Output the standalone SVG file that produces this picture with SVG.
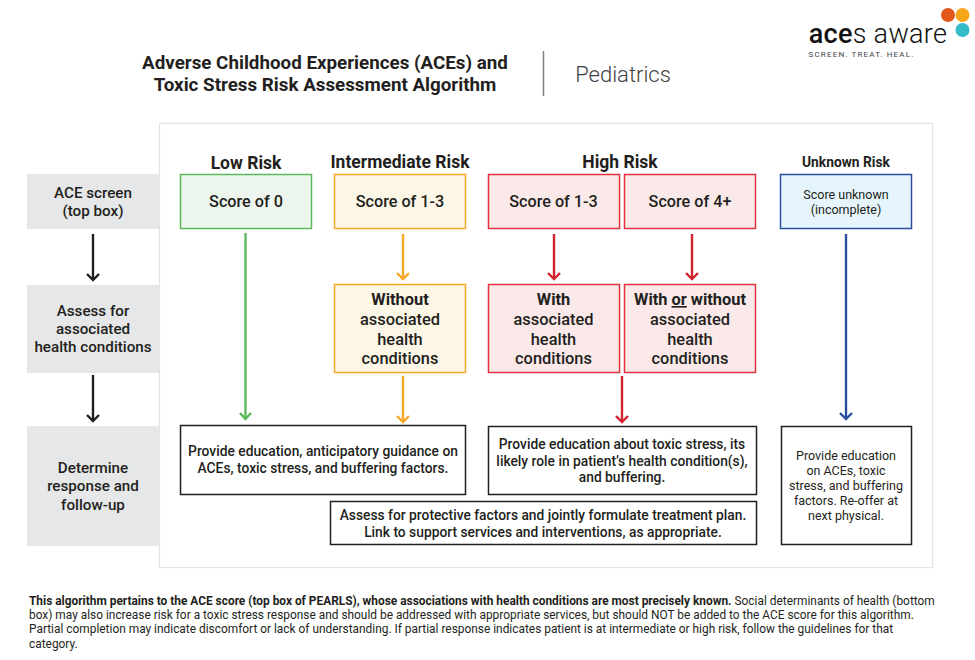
<svg xmlns="http://www.w3.org/2000/svg" width="975" height="660" viewBox="0 0 975 660">
<defs>
<style>
text{font-family:Roboto,"Liberation Sans",sans-serif;fill:#231f20;text-anchor:middle}
.h{font-size:17.500px;font-weight:700}
.t{font-size:16.200px;font-weight:500}
.b{font-size:16.400px;font-weight:500}
.bb{font-weight:700}
.s{font-size:13.800px;font-weight:500}
.side{fill:#e6e7e8}
.c{font-size:15.200px}
.foot{font-size:11.900px;text-anchor:start}
.box{fill:#fff;stroke:#231f20;stroke-width:1.5}
.g{fill:#edf6ee;stroke:#5cb85c;stroke-width:1.5}
.o{fill:#fbf6e6;stroke:#f9a825;stroke-width:1.5}
.r{fill:#fbe9ea;stroke:#e0323f;stroke-width:1.5}
.u{fill:#e6f5fb;stroke:#2b4f9e;stroke-width:1.5}
line{fill:none;stroke-width:2.400}
polyline{fill:none;stroke-width:2.400}
</style>
</defs>
<g id="title">
<text x="325" y="69" style="font-size:18.800px;font-weight:700">Adverse Childhood Experiences (ACEs) and</text>
<text x="325" y="91" style="font-size:18.800px;font-weight:700">Toxic Stress Risk Assessment Algorithm</text>
<line x1="543.500" y1="51" x2="543.500" y2="96" stroke="#7f7f7f" style="stroke-width:1.500"/>
<text x="623" y="82" style="font-size:22px;font-weight:300;fill:#414042">Pediatrics</text>
</g>
<g id="logo">
<circle cx="948" cy="15" r="7" fill="#e1581a"/>
<circle cx="962.500" cy="15" r="7" fill="#f9a51a"/>
<circle cx="962.500" cy="30" r="7" fill="#35bccb"/>
<text x="878" y="42.500" style="font-size:27px;font-weight:400;letter-spacing:.3px;fill:#111"><tspan font-weight="500">ace</tspan><tspan font-weight="300">s aware</tspan></text>
<text x="861.500" y="56.500" style="font-size:8px;font-weight:400;letter-spacing:1.170px;fill:#444">SCREEN. TREAT. HEAL.</text>
</g>
<rect id="panel" x="159.500" y="123.500" width="773" height="444" fill="#fff" stroke="#e3e3e3" stroke-width="1.200"/>
<g id="side-ace"><rect class="side" x="27" y="174" width="132" height="55"/><text class="c s" x="93" y="198">ACE screen</text><text class="c s" x="93" y="216">(top box)</text></g>
<g id="side-assess"><rect class="side" x="27" y="285" width="132" height="88"/><text class="c s" x="93" y="316">Assess for</text><text class="c s" x="93" y="334">associated</text><text class="c s" x="93" y="352">health conditions</text></g>
<g id="side-determine"><rect class="side" x="27" y="426" width="132" height="120"/><text class="c s" x="93" y="473">Determine</text><text class="c s" x="93" y="491">response and</text><text class="c s" x="93" y="510">follow-up</text></g>
<g id="low"><text class="h" x="246" y="168.500">Low Risk</text><rect class="g" x="180.500" y="174.500" width="131" height="54"/><text class="t" x="246" y="207">Score of 0</text></g>
<g id="intermediate"><text class="h" x="400" y="168">Intermediate Risk</text><rect class="o" x="334.500" y="174.500" width="131" height="54"/><text class="t" x="400" y="207">Score of 1-3</text></g>
<g id="high-1"><text class="h" x="620" y="168">High Risk</text><rect class="r" x="488.500" y="174.500" width="131" height="54"/><text class="t" x="553.500" y="207">Score of 1-3</text></g>
<g id="high-2"><rect class="r" x="624.500" y="174.500" width="131" height="54"/><text class="t" x="690" y="207">Score of 4+</text></g>
<g id="unknown"><text x="846" y="167" style="font-size:13.800px;font-weight:700">Unknown Risk</text><rect class="u" x="780.500" y="174.500" width="131" height="54"/><text x="846" y="199" style="font-size:12.500px">Score unknown</text><text x="846" y="214" style="font-size:12.500px">(incomplete)</text></g>
<g id="without"><rect class="o" x="334.500" y="284.500" width="131" height="88"/><text class="b bb" x="400" y="305">Without</text><text class="b" x="400" y="325">associated</text><text class="b" x="400" y="345">health</text><text class="b" x="400" y="364">conditions</text></g>
<g id="with"><rect class="r" x="488.500" y="284.500" width="131" height="88"/><text class="b bb" x="553.500" y="305">With</text><text class="b" x="553.500" y="325">associated</text><text class="b" x="553.500" y="345">health</text><text class="b" x="553.500" y="364">conditions</text></g>
<g id="with-or-without"><rect class="r" x="624.500" y="284.500" width="131" height="88"/><text class="b bb" x="690" y="305">With <tspan text-decoration="underline">or</tspan> without</text><text class="b" x="690" y="325">associated</text><text class="b" x="690" y="345">health</text><text class="b" x="690" y="364">conditions</text></g>
<g id="resp-left"><rect class="box" x="180.500" y="425.500" width="285" height="69"/><text class="s" x="323" y="456">Provide education, anticipatory guidance on</text><text class="s" x="323" y="473">ACEs, toxic stress, and buffering factors.</text></g>
<g id="resp-high"><rect class="box" x="488.500" y="426.500" width="268" height="68"/><text class="s" x="622" y="449">Provide education about toxic stress, its</text><text class="s" x="622" y="466">likely role in patient’s health condition(s),</text><text class="s" x="622" y="482">and buffering.</text></g>
<g id="resp-plan"><rect class="box" x="330.500" y="501.500" width="426" height="43"/><text class="s" x="543" y="520">Assess for protective factors and jointly formulate treatment plan.</text><text class="s" x="543" y="537">Link to support services and interventions, as appropriate.</text></g>
<g id="resp-unknown"><rect class="box" x="781.500" y="426.500" width="130" height="118"/><g style="font-size:12.500px"><text x="846" y="460">Provide education</text><text x="846" y="475">on ACEs, toxic</text><text x="846" y="490">stress, and buffering</text><text x="846" y="505">factors. Re-offer at</text><text x="846" y="520">next physical.</text></g></g>
<g id="connectors">
<g stroke="#231f20"><line x1="93" y1="234" x2="93" y2="280"/><polyline points="87,274 93,280 99,274"/><line x1="93" y1="375" x2="93" y2="421"/><polyline points="87,415 93,421 99,415"/></g>
<g stroke="#5cb85c"><line x1="245.500" y1="233" x2="245.500" y2="419"/><polyline points="240,413 245.500,419 251,413"/></g>
<g stroke="#f9a825"><line x1="403" y1="234" x2="403" y2="279"/><polyline points="397,273 403,279 409,273"/><line x1="403" y1="376" x2="403" y2="422"/><polyline points="397,416 403,422 409,416"/></g>
<g stroke="#d2232f"><line x1="554" y1="234" x2="554" y2="279"/><polyline points="548,273 554,279 560,273"/><line x1="692" y1="234" x2="692" y2="279"/><polyline points="686,273 692,279 698,273"/><line x1="622" y1="376" x2="622" y2="422"/><polyline points="616,416 622,422 628,416"/></g>
<g stroke="#2b4f9e"><line x1="846" y1="234" x2="846" y2="419"/><polyline points="840,413 846,419 852,413"/></g>
</g>
<g id="footnote">
<text class="foot" x="29" y="605"><tspan font-weight="700">This algorithm pertains to the ACE score (top box of PEARLS), whose associations with health conditions are most precisely known.</tspan> Social determinants of health (bottom</text>
<text class="foot" x="29" y="619">box) may also increase risk for a toxic stress response and should be addressed with appropriate services, but should NOT be added to the ACE score for this algorithm.</text>
<text class="foot" x="29" y="633">Partial completion may indicate discomfort or lack of understanding. If partial response indicates patient is at intermediate or high risk, follow the guidelines for that</text>
<text class="foot" x="29" y="648">category.</text>
</g>
</svg>
